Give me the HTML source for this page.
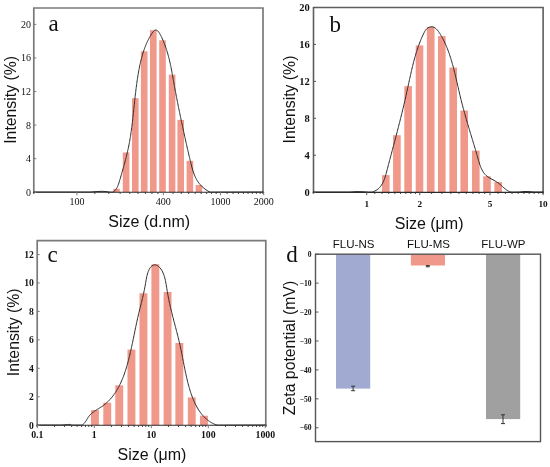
<!DOCTYPE html>
<html><head><meta charset="utf-8"><style>
html,body{margin:0;padding:0;background:#fff;}
svg{display:block;}
</style></head><body>
<svg width="550" height="467" viewBox="0 0 550 467">
<rect width="550" height="467" fill="#fff"/>
<rect x="113.20" y="188.80" width="6.6" height="3.40" fill="#F0988A"/>
<rect x="122.80" y="152.50" width="6.6" height="39.70" fill="#F0988A"/>
<rect x="132.00" y="98.20" width="6.6" height="94.00" fill="#F0988A"/>
<rect x="140.90" y="51.30" width="6.6" height="140.90" fill="#F0988A"/>
<rect x="150.00" y="30.20" width="6.6" height="162.00" fill="#F0988A"/>
<rect x="159.20" y="40.30" width="6.6" height="151.90" fill="#F0988A"/>
<rect x="168.80" y="74.60" width="6.6" height="117.60" fill="#F0988A"/>
<rect x="177.40" y="120.00" width="6.6" height="72.20" fill="#F0988A"/>
<rect x="186.60" y="160.80" width="6.6" height="31.40" fill="#F0988A"/>
<rect x="195.60" y="185.00" width="6.6" height="7.20" fill="#F0988A"/>
<path d="M33.8,193.05 V8 H263 V193.05" fill="none" stroke="#7a7a7a" stroke-width="1.7" stroke-linejoin="miter" stroke-linecap="square"/>
<line x1="32.95" y1="192.30" x2="263.85" y2="192.30" stroke="#2a2a2a" stroke-width="1.1"/>
<path d="M33.80,192.00 L90.00,192.00 L96.00,191.60 L102.00,191.30 L107.00,191.70 L109.75,192.10 L110.77,192.10 L111.70,192.10 L112.57,192.09 L113.38,191.78 L114.12,191.33 L114.81,190.76 L115.45,190.08 L116.04,189.30 L116.59,188.42 L117.10,187.47 L117.58,186.45 L118.02,185.37 L118.44,184.24 L118.84,183.08 L119.23,181.89 L119.59,180.68 L119.96,179.47 L120.31,178.26 L120.67,177.06 L121.02,175.87 L121.36,174.68 L121.71,173.51 L122.05,172.33 L122.38,171.17 L122.72,170.01 L123.05,168.85 L123.37,167.70 L123.69,166.55 L124.01,165.40 L124.33,164.26 L124.64,163.12 L124.94,161.98 L125.25,160.85 L125.54,159.71 L125.84,158.57 L126.12,157.44 L126.41,156.30 L126.69,155.16 L126.96,154.02 L127.23,152.88 L127.50,151.73 L127.76,150.58 L128.01,149.43 L128.26,148.28 L128.51,147.12 L128.75,145.95 L128.98,144.78 L129.21,143.60 L129.43,142.42 L129.65,141.23 L129.86,140.03 L130.07,138.82 L130.27,137.61 L130.47,136.39 L130.66,135.16 L130.84,133.93 L131.02,132.69 L131.20,131.45 L131.37,130.19 L131.54,128.94 L131.71,127.67 L131.87,126.41 L132.03,125.14 L132.18,123.86 L132.34,122.58 L132.49,121.29 L132.64,120.00 L132.78,118.71 L132.93,117.42 L133.07,116.12 L133.21,114.82 L133.35,113.52 L133.49,112.21 L133.63,110.90 L133.77,109.59 L133.91,108.28 L134.04,106.97 L134.18,105.66 L134.32,104.34 L134.46,103.03 L134.60,101.72 L134.74,100.40 L134.88,99.09 L135.02,97.78 L135.17,96.46 L135.31,95.15 L135.46,93.84 L135.61,92.53 L135.77,91.23 L135.92,89.92 L136.08,88.62 L136.24,87.32 L136.41,86.03 L136.58,84.73 L136.75,83.44 L136.93,82.16 L137.11,80.88 L137.30,79.60 L137.49,78.32 L137.69,77.06 L137.89,75.79 L138.10,74.53 L138.31,73.28 L138.53,72.03 L138.75,70.79 L138.99,69.55 L139.22,68.32 L139.47,67.10 L139.72,65.89 L139.98,64.68 L140.24,63.48 L140.52,62.28 L140.80,61.10 L141.09,59.92 L141.39,58.75 L141.69,57.60 L142.01,56.44 L142.33,55.30 L142.67,54.17 L143.01,53.05 L143.36,51.94 L143.72,50.84 L144.10,49.74 L144.48,48.66 L144.87,47.59 L145.28,46.54 L145.69,45.49 L146.12,44.46 L146.56,43.43 L147.01,42.42 L147.47,41.42 L147.94,40.44 L148.43,39.47 L148.92,38.51 L149.43,37.56 L149.96,36.63 L150.50,35.72 L151.05,34.81 L151.61,33.92 L152.19,33.05 L152.78,32.22 L153.38,31.47 L153.99,30.83 L154.61,30.35 L155.23,30.05 L155.85,29.97 L156.48,30.10 L157.10,30.43 L157.73,30.94 L158.35,31.61 L158.96,32.41 L159.56,33.33 L160.16,34.34 L160.74,35.43 L161.31,36.57 L161.87,37.75 L162.40,38.94 L162.92,40.13 L163.42,41.31 L163.90,42.49 L164.37,43.67 L164.81,44.83 L165.24,46.00 L165.66,47.16 L166.06,48.32 L166.44,49.48 L166.82,50.63 L167.17,51.78 L167.52,52.92 L167.85,54.07 L168.17,55.21 L168.48,56.36 L168.78,57.50 L169.07,58.64 L169.35,59.78 L169.62,60.92 L169.89,62.06 L170.14,63.20 L170.39,64.34 L170.63,65.48 L170.87,66.62 L171.10,67.77 L171.33,68.91 L171.55,70.06 L171.76,71.21 L171.98,72.36 L172.19,73.52 L172.40,74.68 L172.61,75.84 L172.82,77.01 L173.03,78.18 L173.24,79.35 L173.45,80.53 L173.66,81.72 L173.87,82.91 L174.09,84.10 L174.31,85.31 L174.53,86.51 L174.75,87.72 L174.98,88.94 L175.20,90.16 L175.43,91.38 L175.66,92.61 L175.90,93.84 L176.13,95.07 L176.37,96.31 L176.61,97.55 L176.85,98.79 L177.10,100.04 L177.34,101.28 L177.59,102.53 L177.84,103.79 L178.09,105.04 L178.34,106.29 L178.59,107.55 L178.84,108.81 L179.10,110.07 L179.36,111.32 L179.61,112.58 L179.87,113.84 L180.13,115.10 L180.39,116.36 L180.66,117.62 L180.92,118.87 L181.18,120.13 L181.45,121.38 L181.71,122.64 L181.98,123.89 L182.25,125.14 L182.51,126.39 L182.78,127.63 L183.05,128.87 L183.32,130.11 L183.59,131.35 L183.86,132.58 L184.13,133.81 L184.40,135.04 L184.67,136.26 L184.94,137.48 L185.21,138.70 L185.48,139.91 L185.75,141.11 L186.02,142.31 L186.29,143.50 L186.56,144.69 L186.83,145.88 L187.10,147.05 L187.37,148.23 L187.63,149.39 L187.90,150.55 L188.17,151.70 L188.43,152.85 L188.70,153.98 L188.96,155.11 L189.23,156.24 L189.49,157.35 L189.75,158.46 L190.02,159.56 L190.28,160.65 L190.54,161.73 L190.79,162.80 L191.05,163.86 L191.31,164.92 L191.58,165.96 L191.85,166.99 L192.13,168.02 L192.41,169.03 L192.71,170.03 L193.02,171.03 L193.34,172.01 L193.67,172.98 L194.02,173.94 L194.39,174.88 L194.78,175.82 L195.19,176.74 L195.62,177.65 L196.08,178.55 L196.56,179.44 L197.07,180.31 L197.61,181.17 L198.17,182.01 L198.77,182.85 L199.41,183.66 L200.07,184.47 L200.78,185.26 L201.52,186.03 L202.30,186.80 L203.12,187.54 L203.99,188.27 L204.90,188.99 L205.85,189.69 L206.86,190.37 L207.91,191.04 L209.01,191.69 L210.16,192.10 L211.37,192.10 L212.63,192.10 L213.95,192.10 L215.33,192.10 L263.00,192.00" fill="none" stroke="#2a2a2a" stroke-width="1.0" stroke-linejoin="round"/>
<line x1="33.8" y1="192.20" x2="36.3" y2="192.20" stroke="#7a7a7a" stroke-width="1"/>
<text x="31" y="195.70" font-family='"Liberation Serif", "Times New Roman", serif' font-size="10" font-weight="normal" text-anchor="end" fill="#111">0</text>
<line x1="33.8" y1="158.64" x2="36.3" y2="158.64" stroke="#7a7a7a" stroke-width="1"/>
<text x="31" y="162.14" font-family='"Liberation Serif", "Times New Roman", serif' font-size="10" font-weight="normal" text-anchor="end" fill="#111">4</text>
<line x1="33.8" y1="125.08" x2="36.3" y2="125.08" stroke="#7a7a7a" stroke-width="1"/>
<text x="31" y="128.58" font-family='"Liberation Serif", "Times New Roman", serif' font-size="10" font-weight="normal" text-anchor="end" fill="#111">8</text>
<line x1="33.8" y1="91.52" x2="36.3" y2="91.52" stroke="#7a7a7a" stroke-width="1"/>
<text x="31" y="95.02" font-family='"Liberation Serif", "Times New Roman", serif' font-size="10" font-weight="normal" text-anchor="end" fill="#111">12</text>
<line x1="33.8" y1="57.96" x2="36.3" y2="57.96" stroke="#7a7a7a" stroke-width="1"/>
<text x="31" y="61.46" font-family='"Liberation Serif", "Times New Roman", serif' font-size="10" font-weight="normal" text-anchor="end" fill="#111">16</text>
<line x1="33.8" y1="24.40" x2="36.3" y2="24.40" stroke="#7a7a7a" stroke-width="1"/>
<text x="31" y="27.90" font-family='"Liberation Serif", "Times New Roman", serif' font-size="10" font-weight="normal" text-anchor="end" fill="#111">20</text>
<line x1="76.90" y1="192.2" x2="76.90" y2="195.2" stroke="#7a7a7a" stroke-width="1"/>
<text x="76.90" y="205" font-family='"Liberation Serif", "Times New Roman", serif' font-size="10" font-weight="normal" text-anchor="middle" fill="#111">100</text>
<line x1="163.36" y1="192.2" x2="163.36" y2="195.2" stroke="#7a7a7a" stroke-width="1"/>
<text x="163.36" y="205" font-family='"Liberation Serif", "Times New Roman", serif' font-size="10" font-weight="normal" text-anchor="middle" fill="#111">400</text>
<line x1="220.50" y1="192.2" x2="220.50" y2="195.2" stroke="#7a7a7a" stroke-width="1"/>
<text x="220.50" y="205" font-family='"Liberation Serif", "Times New Roman", serif' font-size="10" font-weight="normal" text-anchor="middle" fill="#111">1000</text>
<line x1="263.73" y1="192.2" x2="263.73" y2="195.2" stroke="#7a7a7a" stroke-width="1"/>
<text x="263.73" y="205" font-family='"Liberation Serif", "Times New Roman", serif' font-size="10" font-weight="normal" text-anchor="middle" fill="#111">2000</text>
<line x1="94.84" y1="192.2" x2="94.84" y2="194.0" stroke="#333" stroke-width="0.9"/>
<line x1="108.76" y1="192.2" x2="108.76" y2="194.0" stroke="#333" stroke-width="0.9"/>
<line x1="120.13" y1="192.2" x2="120.13" y2="194.0" stroke="#333" stroke-width="0.9"/>
<line x1="129.74" y1="192.2" x2="129.74" y2="194.0" stroke="#333" stroke-width="0.9"/>
<line x1="138.07" y1="192.2" x2="138.07" y2="194.0" stroke="#333" stroke-width="0.9"/>
<line x1="145.41" y1="192.2" x2="145.41" y2="194.0" stroke="#333" stroke-width="0.9"/>
<line x1="151.99" y1="192.2" x2="151.99" y2="194.0" stroke="#333" stroke-width="0.9"/>
<line x1="157.93" y1="192.2" x2="157.93" y2="194.0" stroke="#333" stroke-width="0.9"/>
<line x1="172.97" y1="192.2" x2="172.97" y2="194.0" stroke="#333" stroke-width="0.9"/>
<line x1="181.30" y1="192.2" x2="181.30" y2="194.0" stroke="#333" stroke-width="0.9"/>
<line x1="188.64" y1="192.2" x2="188.64" y2="194.0" stroke="#333" stroke-width="0.9"/>
<line x1="195.21" y1="192.2" x2="195.21" y2="194.0" stroke="#333" stroke-width="0.9"/>
<line x1="201.16" y1="192.2" x2="201.16" y2="194.0" stroke="#333" stroke-width="0.9"/>
<line x1="206.58" y1="192.2" x2="206.58" y2="194.0" stroke="#333" stroke-width="0.9"/>
<line x1="211.58" y1="192.2" x2="211.58" y2="194.0" stroke="#333" stroke-width="0.9"/>
<line x1="216.20" y1="192.2" x2="216.20" y2="194.0" stroke="#333" stroke-width="0.9"/>
<line x1="227.07" y1="192.2" x2="227.07" y2="194.0" stroke="#333" stroke-width="0.9"/>
<line x1="233.01" y1="192.2" x2="233.01" y2="194.0" stroke="#333" stroke-width="0.9"/>
<line x1="238.44" y1="192.2" x2="238.44" y2="194.0" stroke="#333" stroke-width="0.9"/>
<line x1="243.43" y1="192.2" x2="243.43" y2="194.0" stroke="#333" stroke-width="0.9"/>
<line x1="248.05" y1="192.2" x2="248.05" y2="194.0" stroke="#333" stroke-width="0.9"/>
<line x1="252.36" y1="192.2" x2="252.36" y2="194.0" stroke="#333" stroke-width="0.9"/>
<line x1="256.38" y1="192.2" x2="256.38" y2="194.0" stroke="#333" stroke-width="0.9"/>
<line x1="260.16" y1="192.2" x2="260.16" y2="194.0" stroke="#333" stroke-width="0.9"/>
<text x="48.5" y="31.3" font-family='"Liberation Serif", "Times New Roman", serif' font-size="23" fill="#111">a</text>
<text transform="translate(15.8,99.9) rotate(-90)" x="0" y="0" font-family='"Liberation Sans", Arial, sans-serif' font-size="15.8" text-anchor="middle" fill="#111">Intensity (%)</text>
<text x="149.2" y="227.2" font-family='"Liberation Sans", Arial, sans-serif' font-size="16" text-anchor="middle" fill="#111">Size (d.nm)</text>
<rect x="382.00" y="175.10" width="7.6" height="17.10" fill="#F0988A"/>
<rect x="393.10" y="135.20" width="7.6" height="57.00" fill="#F0988A"/>
<rect x="404.30" y="86.20" width="7.6" height="106.00" fill="#F0988A"/>
<rect x="415.70" y="45.40" width="7.6" height="146.80" fill="#F0988A"/>
<rect x="426.90" y="27.00" width="7.6" height="165.20" fill="#F0988A"/>
<rect x="438.00" y="36.10" width="7.6" height="156.10" fill="#F0988A"/>
<rect x="449.40" y="67.60" width="7.6" height="124.60" fill="#F0988A"/>
<rect x="460.40" y="110.60" width="7.6" height="81.60" fill="#F0988A"/>
<rect x="472.00" y="150.60" width="7.6" height="41.60" fill="#F0988A"/>
<rect x="483.20" y="176.30" width="7.6" height="15.90" fill="#F0988A"/>
<rect x="494.40" y="182.10" width="7.6" height="10.10" fill="#F0988A"/>
<path d="M313.5,193.00 V7.5 H543.1 V193.00" fill="none" stroke="#5e5e5e" stroke-width="1.6" stroke-linejoin="miter" stroke-linecap="square"/>
<line x1="312.70" y1="192.40" x2="543.90" y2="192.40" stroke="#2a2a2a" stroke-width="1.1"/>
<path d="M313.50,192.00 L350.00,192.00 L356.00,191.60 L362.00,191.70 L367.00,192.00 L368.45,192.10 L369.91,192.10 L371.29,192.10 L372.58,191.86 L373.79,191.46 L374.92,190.99 L375.98,190.44 L376.97,189.82 L377.89,189.14 L378.76,188.40 L379.56,187.59 L380.30,186.74 L381.00,185.83 L381.64,184.87 L382.25,183.87 L382.80,182.82 L383.32,181.74 L383.81,180.62 L384.27,179.47 L384.69,178.30 L385.09,177.10 L385.48,175.88 L385.84,174.64 L386.19,173.39 L386.53,172.13 L386.87,170.86 L387.20,169.59 L387.53,168.32 L387.86,167.04 L388.20,165.77 L388.53,164.50 L388.86,163.23 L389.20,161.96 L389.53,160.69 L389.87,159.42 L390.20,158.15 L390.54,156.88 L390.88,155.62 L391.21,154.35 L391.55,153.08 L391.89,151.81 L392.22,150.54 L392.56,149.27 L392.90,148.00 L393.23,146.73 L393.57,145.46 L393.91,144.19 L394.24,142.92 L394.58,141.65 L394.92,140.38 L395.25,139.11 L395.59,137.84 L395.92,136.57 L396.25,135.29 L396.59,134.02 L396.92,132.75 L397.25,131.47 L397.58,130.20 L397.91,128.92 L398.24,127.64 L398.57,126.37 L398.90,125.09 L399.23,123.81 L399.55,122.53 L399.88,121.25 L400.20,119.97 L400.52,118.69 L400.84,117.40 L401.16,116.12 L401.48,114.83 L401.80,113.55 L402.11,112.26 L402.43,110.97 L402.74,109.68 L403.05,108.39 L403.36,107.09 L403.67,105.80 L403.98,104.50 L404.28,103.20 L404.58,101.90 L404.88,100.60 L405.18,99.30 L405.48,98.00 L405.77,96.69 L406.06,95.39 L406.36,94.08 L406.64,92.77 L406.93,91.46 L407.22,90.14 L407.50,88.83 L407.79,87.52 L408.07,86.20 L408.35,84.89 L408.64,83.58 L408.92,82.26 L409.21,80.95 L409.49,79.64 L409.78,78.33 L410.07,77.02 L410.36,75.71 L410.66,74.40 L410.95,73.10 L411.25,71.80 L411.55,70.50 L411.86,69.20 L412.17,67.91 L412.48,66.62 L412.80,65.33 L413.12,64.05 L413.45,62.77 L413.78,61.49 L414.12,60.22 L414.46,58.96 L414.81,57.70 L415.16,56.44 L415.53,55.19 L415.89,53.94 L416.27,52.70 L416.65,51.47 L417.05,50.24 L417.45,49.02 L417.85,47.81 L418.27,46.60 L418.69,45.40 L419.13,44.21 L419.57,43.02 L420.03,41.85 L420.49,40.68 L420.97,39.52 L421.45,38.37 L421.95,37.22 L422.45,36.09 L422.97,34.97 L423.50,33.85 L424.05,32.75 L424.62,31.67 L425.24,30.63 L425.93,29.67 L426.73,28.81 L427.66,28.07 L428.72,27.47 L429.85,27.05 L430.96,26.83 L432.00,26.80 L432.98,26.95 L433.90,27.27 L434.78,27.74 L435.60,28.33 L436.39,29.04 L437.14,29.83 L437.85,30.71 L438.54,31.64 L439.21,32.61 L439.85,33.60 L440.49,34.61 L441.10,35.63 L441.70,36.67 L442.29,37.71 L442.86,38.77 L443.42,39.84 L443.97,40.93 L444.50,42.02 L445.02,43.13 L445.52,44.24 L446.02,45.37 L446.50,46.51 L446.97,47.66 L447.43,48.81 L447.88,49.98 L448.32,51.15 L448.75,52.34 L449.17,53.53 L449.58,54.73 L449.99,55.94 L450.38,57.15 L450.77,58.38 L451.14,59.61 L451.51,60.84 L451.88,62.09 L452.23,63.33 L452.58,64.59 L452.93,65.85 L453.27,67.11 L453.60,68.38 L453.93,69.65 L454.25,70.93 L454.58,72.21 L454.89,73.50 L455.20,74.79 L455.51,76.08 L455.82,77.37 L456.13,78.67 L456.43,79.96 L456.73,81.26 L457.03,82.57 L457.33,83.87 L457.63,85.17 L457.93,86.47 L458.22,87.78 L458.52,89.08 L458.82,90.38 L459.12,91.68 L459.43,92.98 L459.73,94.28 L460.04,95.58 L460.35,96.88 L460.66,98.17 L460.98,99.46 L461.30,100.75 L461.62,102.03 L461.95,103.31 L462.28,104.59 L462.61,105.87 L462.95,107.14 L463.29,108.41 L463.63,109.68 L463.98,110.95 L464.33,112.21 L464.68,113.47 L465.04,114.73 L465.39,115.99 L465.75,117.24 L466.11,118.50 L466.47,119.75 L466.84,121.00 L467.20,122.24 L467.57,123.49 L467.94,124.73 L468.31,125.98 L468.68,127.22 L469.05,128.46 L469.42,129.70 L469.79,130.94 L470.17,132.17 L470.54,133.41 L470.92,134.64 L471.29,135.88 L471.66,137.11 L472.04,138.35 L472.41,139.58 L472.78,140.81 L473.15,142.04 L473.53,143.27 L473.90,144.50 L474.27,145.73 L474.63,146.97 L475.00,148.20 L475.37,149.43 L475.73,150.66 L476.09,151.89 L476.45,153.12 L476.81,154.35 L477.16,155.59 L477.52,156.82 L477.87,158.05 L478.22,159.29 L478.57,160.52 L478.93,161.74 L479.30,162.95 L479.68,164.15 L480.09,165.33 L480.51,166.48 L480.97,167.62 L481.45,168.72 L481.97,169.80 L482.53,170.84 L483.13,171.84 L483.77,172.80 L484.47,173.71 L485.22,174.57 L486.04,175.39 L486.91,176.14 L487.84,176.85 L488.83,177.50 L489.85,178.13 L490.90,178.72 L491.97,179.30 L493.04,179.87 L494.11,180.44 L495.16,181.02 L496.18,181.63 L497.16,182.26 L498.11,182.92 L499.01,183.61 L499.89,184.32 L500.74,185.04 L501.58,185.77 L502.41,186.50 L503.24,187.23 L504.08,187.95 L504.92,188.65 L505.78,189.33 L506.67,189.98 L507.59,190.60 L508.58,191.17 L509.68,191.69 L510.93,192.10 L512.38,192.10 L514.06,192.10 L516.01,192.10 L520.00,192.00 L524.00,191.50 L529.00,191.60 L534.00,192.00 L543.10,192.00" fill="none" stroke="#2a2a2a" stroke-width="1.0" stroke-linejoin="round"/>
<line x1="313.5" y1="192.20" x2="316.0" y2="192.20" stroke="#555" stroke-width="1"/>
<text x="309.7" y="195.88" font-family='"Liberation Serif", "Times New Roman", serif' font-size="10.5" font-weight="bold" text-anchor="end" fill="#111">0</text>
<line x1="313.5" y1="155.26" x2="316.0" y2="155.26" stroke="#555" stroke-width="1"/>
<text x="309.7" y="158.94" font-family='"Liberation Serif", "Times New Roman", serif' font-size="10.5" font-weight="bold" text-anchor="end" fill="#111">4</text>
<line x1="313.5" y1="118.32" x2="316.0" y2="118.32" stroke="#555" stroke-width="1"/>
<text x="309.7" y="121.99" font-family='"Liberation Serif", "Times New Roman", serif' font-size="10.5" font-weight="bold" text-anchor="end" fill="#111">8</text>
<line x1="313.5" y1="81.38" x2="316.0" y2="81.38" stroke="#555" stroke-width="1"/>
<text x="309.7" y="85.05" font-family='"Liberation Serif", "Times New Roman", serif' font-size="10.5" font-weight="bold" text-anchor="end" fill="#111">12</text>
<line x1="313.5" y1="44.44" x2="316.0" y2="44.44" stroke="#555" stroke-width="1"/>
<text x="309.7" y="48.11" font-family='"Liberation Serif", "Times New Roman", serif' font-size="10.5" font-weight="bold" text-anchor="end" fill="#111">16</text>
<line x1="313.5" y1="7.50" x2="316.0" y2="7.50" stroke="#555" stroke-width="1"/>
<text x="309.7" y="11.18" font-family='"Liberation Serif", "Times New Roman", serif' font-size="10.5" font-weight="bold" text-anchor="end" fill="#111">20</text>
<line x1="366.70" y1="192.2" x2="366.70" y2="195.2" stroke="#555" stroke-width="1"/>
<text x="366.70" y="206.8" font-family='"Liberation Serif", "Times New Roman", serif' font-size="9.2" font-weight="bold" text-anchor="middle" fill="#111">1</text>
<line x1="419.80" y1="192.2" x2="419.80" y2="195.2" stroke="#555" stroke-width="1"/>
<text x="419.80" y="206.8" font-family='"Liberation Serif", "Times New Roman", serif' font-size="9.2" font-weight="bold" text-anchor="middle" fill="#111">2</text>
<line x1="490.00" y1="192.2" x2="490.00" y2="195.2" stroke="#555" stroke-width="1"/>
<text x="490.00" y="206.8" font-family='"Liberation Serif", "Times New Roman", serif' font-size="9.2" font-weight="bold" text-anchor="middle" fill="#111">5</text>
<line x1="543.10" y1="192.2" x2="543.10" y2="195.2" stroke="#555" stroke-width="1"/>
<text x="543.10" y="206.8" font-family='"Liberation Serif", "Times New Roman", serif' font-size="9.2" font-weight="bold" text-anchor="middle" fill="#111">10</text>
<line x1="374.77" y1="192.2" x2="374.77" y2="194.0" stroke="#333" stroke-width="0.9"/>
<line x1="382.07" y1="192.2" x2="382.07" y2="194.0" stroke="#333" stroke-width="0.9"/>
<line x1="388.74" y1="192.2" x2="388.74" y2="194.0" stroke="#333" stroke-width="0.9"/>
<line x1="394.87" y1="192.2" x2="394.87" y2="194.0" stroke="#333" stroke-width="0.9"/>
<line x1="400.55" y1="192.2" x2="400.55" y2="194.0" stroke="#333" stroke-width="0.9"/>
<line x1="405.83" y1="192.2" x2="405.83" y2="194.0" stroke="#333" stroke-width="0.9"/>
<line x1="410.78" y1="192.2" x2="410.78" y2="194.0" stroke="#333" stroke-width="0.9"/>
<line x1="415.42" y1="192.2" x2="415.42" y2="194.0" stroke="#333" stroke-width="0.9"/>
<line x1="431.61" y1="192.2" x2="431.61" y2="194.0" stroke="#333" stroke-width="0.9"/>
<line x1="441.84" y1="192.2" x2="441.84" y2="194.0" stroke="#333" stroke-width="0.9"/>
<line x1="450.86" y1="192.2" x2="450.86" y2="194.0" stroke="#333" stroke-width="0.9"/>
<line x1="458.94" y1="192.2" x2="458.94" y2="194.0" stroke="#333" stroke-width="0.9"/>
<line x1="466.24" y1="192.2" x2="466.24" y2="194.0" stroke="#333" stroke-width="0.9"/>
<line x1="472.90" y1="192.2" x2="472.90" y2="194.0" stroke="#333" stroke-width="0.9"/>
<line x1="479.04" y1="192.2" x2="479.04" y2="194.0" stroke="#333" stroke-width="0.9"/>
<line x1="484.71" y1="192.2" x2="484.71" y2="194.0" stroke="#333" stroke-width="0.9"/>
<line x1="498.07" y1="192.2" x2="498.07" y2="194.0" stroke="#333" stroke-width="0.9"/>
<line x1="505.37" y1="192.2" x2="505.37" y2="194.0" stroke="#333" stroke-width="0.9"/>
<line x1="512.04" y1="192.2" x2="512.04" y2="194.0" stroke="#333" stroke-width="0.9"/>
<line x1="518.17" y1="192.2" x2="518.17" y2="194.0" stroke="#333" stroke-width="0.9"/>
<line x1="523.85" y1="192.2" x2="523.85" y2="194.0" stroke="#333" stroke-width="0.9"/>
<line x1="529.13" y1="192.2" x2="529.13" y2="194.0" stroke="#333" stroke-width="0.9"/>
<line x1="534.08" y1="192.2" x2="534.08" y2="194.0" stroke="#333" stroke-width="0.9"/>
<line x1="538.72" y1="192.2" x2="538.72" y2="194.0" stroke="#333" stroke-width="0.9"/>
<text x="329.4" y="31.6" font-family='"Liberation Serif", "Times New Roman", serif' font-size="23" fill="#111">b</text>
<text transform="translate(294.6,99.5) rotate(-90)" x="0" y="0" font-family='"Liberation Sans", Arial, sans-serif' font-size="15.8" text-anchor="middle" fill="#111">Intensity (%)</text>
<text x="429.1" y="229.0" font-family='"Liberation Sans", Arial, sans-serif' font-size="16" text-anchor="middle" fill="#111">Size (μm)</text>
<rect x="91.00" y="410.10" width="7.9" height="15.10" fill="#F0988A"/>
<rect x="103.30" y="402.70" width="7.9" height="22.50" fill="#F0988A"/>
<rect x="115.30" y="385.30" width="7.9" height="39.90" fill="#F0988A"/>
<rect x="127.50" y="349.60" width="7.9" height="75.60" fill="#F0988A"/>
<rect x="139.50" y="293.20" width="7.9" height="132.00" fill="#F0988A"/>
<rect x="151.40" y="264.30" width="7.9" height="160.90" fill="#F0988A"/>
<rect x="163.60" y="292.00" width="7.9" height="133.20" fill="#F0988A"/>
<rect x="175.40" y="343.00" width="7.9" height="82.20" fill="#F0988A"/>
<rect x="187.80" y="397.40" width="7.9" height="27.80" fill="#F0988A"/>
<rect x="200.00" y="415.70" width="7.9" height="9.50" fill="#F0988A"/>
<path d="M37.2,426.05 V240.7 H265.8 V426.05" fill="none" stroke="#7a7a7a" stroke-width="1.7" stroke-linejoin="miter" stroke-linecap="square"/>
<line x1="36.35" y1="425.20" x2="266.65" y2="425.20" stroke="#2a2a2a" stroke-width="1.1"/>
<path d="M37.20,425.00 L62.00,425.00 L67.00,424.60 L69.50,424.90 L69.32,424.28 L71.72,425.10 L73.86,425.10 L75.77,425.10 L77.46,425.10 L78.96,425.10 L80.29,425.10 L81.45,425.10 L82.48,424.88 L83.39,424.19 L84.20,423.40 L84.93,422.52 L85.60,421.58 L86.23,420.60 L86.83,419.59 L87.43,418.58 L88.04,417.59 L88.69,416.63 L89.39,415.73 L90.14,414.88 L90.94,414.08 L91.78,413.32 L92.65,412.59 L93.55,411.91 L94.48,411.24 L95.43,410.60 L96.39,409.98 L97.37,409.36 L98.35,408.75 L99.32,408.14 L100.30,407.53 L101.26,406.91 L102.21,406.27 L103.13,405.61 L104.04,404.92 L104.93,404.22 L105.79,403.50 L106.64,402.76 L107.47,402.00 L108.28,401.22 L109.07,400.42 L109.85,399.61 L110.61,398.77 L111.35,397.92 L112.07,397.05 L112.77,396.16 L113.46,395.25 L114.14,394.33 L114.80,393.39 L115.44,392.43 L116.07,391.46 L116.68,390.48 L117.28,389.47 L117.86,388.45 L118.43,387.42 L118.99,386.37 L119.53,385.31 L120.06,384.24 L120.58,383.15 L121.08,382.05 L121.58,380.93 L122.06,379.80 L122.53,378.67 L122.99,377.52 L123.44,376.36 L123.87,375.18 L124.30,374.00 L124.72,372.81 L125.13,371.61 L125.53,370.40 L125.92,369.18 L126.30,367.95 L126.67,366.72 L127.04,365.48 L127.40,364.23 L127.75,362.97 L128.09,361.71 L128.43,360.44 L128.76,359.16 L129.08,357.88 L129.40,356.60 L129.71,355.31 L130.02,354.02 L130.32,352.72 L130.62,351.42 L130.91,350.12 L131.20,348.81 L131.49,347.51 L131.77,346.20 L132.05,344.89 L132.33,343.58 L132.60,342.26 L132.88,340.95 L133.15,339.63 L133.42,338.32 L133.69,337.00 L133.95,335.69 L134.22,334.37 L134.49,333.06 L134.76,331.75 L135.02,330.44 L135.29,329.13 L135.56,327.82 L135.83,326.52 L136.10,325.22 L136.38,323.92 L136.65,322.62 L136.93,321.33 L137.22,320.04 L137.50,318.76 L137.79,317.48 L138.08,316.20 L138.38,314.93 L138.68,313.67 L138.98,312.41 L139.29,311.15 L139.60,309.89 L139.91,308.64 L140.23,307.39 L140.54,306.13 L140.86,304.87 L141.17,303.61 L141.49,302.35 L141.80,301.08 L142.11,299.81 L142.42,298.53 L142.73,297.24 L143.03,295.94 L143.33,294.64 L143.62,293.32 L143.91,291.99 L144.19,290.65 L144.47,289.29 L144.74,287.93 L145.00,286.54 L145.26,285.14 L145.50,283.72 L145.74,282.29 L145.99,280.86 L146.24,279.44 L146.50,278.03 L146.79,276.64 L147.10,275.28 L147.45,273.96 L147.83,272.69 L148.26,271.48 L148.74,270.32 L149.28,269.25 L149.87,268.25 L150.54,267.34 L151.28,266.53 L152.09,265.84 L152.96,265.30 L153.86,264.94 L154.80,264.79 L155.74,264.89 L156.68,265.21 L157.59,265.72 L158.48,266.38 L159.32,267.15 L160.10,267.99 L160.81,268.90 L161.47,269.86 L162.08,270.88 L162.63,271.94 L163.14,273.05 L163.60,274.21 L164.02,275.40 L164.41,276.63 L164.76,277.89 L165.08,279.19 L165.38,280.50 L165.66,281.84 L165.92,283.19 L166.16,284.56 L166.39,285.93 L166.62,287.32 L166.84,288.70 L167.06,290.09 L167.29,291.47 L167.52,292.84 L167.75,294.21 L168.00,295.56 L168.25,296.91 L168.51,298.25 L168.78,299.58 L169.05,300.91 L169.33,302.22 L169.62,303.54 L169.91,304.84 L170.20,306.14 L170.50,307.43 L170.81,308.72 L171.11,310.01 L171.43,311.29 L171.74,312.56 L172.06,313.84 L172.38,315.10 L172.70,316.37 L173.03,317.63 L173.36,318.90 L173.68,320.16 L174.01,321.41 L174.34,322.67 L174.68,323.93 L175.01,325.19 L175.34,326.44 L175.67,327.70 L176.00,328.96 L176.33,330.22 L176.66,331.48 L176.98,332.74 L177.31,334.00 L177.63,335.27 L177.95,336.54 L178.26,337.81 L178.57,339.09 L178.88,340.37 L179.19,341.66 L179.49,342.95 L179.78,344.24 L180.08,345.54 L180.36,346.85 L180.64,348.16 L180.92,349.48 L181.19,350.80 L181.47,352.12 L181.73,353.45 L182.00,354.78 L182.26,356.11 L182.53,357.44 L182.79,358.78 L183.05,360.11 L183.31,361.45 L183.57,362.79 L183.83,364.12 L184.10,365.46 L184.36,366.79 L184.63,368.12 L184.90,369.45 L185.17,370.78 L185.45,372.10 L185.73,373.42 L186.01,374.73 L186.30,376.05 L186.60,377.35 L186.89,378.65 L187.20,379.94 L187.51,381.23 L187.83,382.51 L188.16,383.78 L188.49,385.05 L188.83,386.31 L189.18,387.55 L189.54,388.79 L189.91,390.02 L190.29,391.24 L190.68,392.45 L191.08,393.65 L191.49,394.83 L191.91,396.01 L192.35,397.17 L192.79,398.32 L193.25,399.45 L193.73,400.57 L194.22,401.68 L194.72,402.77 L195.23,403.85 L195.77,404.91 L196.31,405.95 L196.88,406.98 L197.45,407.99 L198.05,408.99 L198.66,409.96 L199.30,410.92 L199.95,411.86 L200.61,412.78 L201.30,413.68 L202.01,414.56 L202.74,415.42 L203.49,416.25 L204.26,417.06 L205.06,417.85 L205.89,418.62 L206.74,419.36 L207.62,420.07 L208.53,420.75 L209.48,421.41 L210.45,422.04 L211.46,422.63 L212.51,423.20 L213.59,423.74 L214.71,424.24 L215.87,424.71 L217.07,425.10 L218.32,425.10 L219.64,425.10 L221.02,425.10 L222.49,425.10 L224.05,425.10 L265.80,425.00" fill="none" stroke="#2a2a2a" stroke-width="1.0" stroke-linejoin="round"/>
<line x1="37.2" y1="425.20" x2="39.7" y2="425.20" stroke="#7a7a7a" stroke-width="1"/>
<text x="33.8" y="428.56" font-family='"Liberation Serif", "Times New Roman", serif' font-size="9.6" font-weight="bold" text-anchor="end" fill="#111">0</text>
<line x1="37.2" y1="396.76" x2="39.7" y2="396.76" stroke="#7a7a7a" stroke-width="1"/>
<text x="33.8" y="400.12" font-family='"Liberation Serif", "Times New Roman", serif' font-size="9.6" font-weight="bold" text-anchor="end" fill="#111">2</text>
<line x1="37.2" y1="368.32" x2="39.7" y2="368.32" stroke="#7a7a7a" stroke-width="1"/>
<text x="33.8" y="371.68" font-family='"Liberation Serif", "Times New Roman", serif' font-size="9.6" font-weight="bold" text-anchor="end" fill="#111">4</text>
<line x1="37.2" y1="339.88" x2="39.7" y2="339.88" stroke="#7a7a7a" stroke-width="1"/>
<text x="33.8" y="343.24" font-family='"Liberation Serif", "Times New Roman", serif' font-size="9.6" font-weight="bold" text-anchor="end" fill="#111">6</text>
<line x1="37.2" y1="311.44" x2="39.7" y2="311.44" stroke="#7a7a7a" stroke-width="1"/>
<text x="33.8" y="314.80" font-family='"Liberation Serif", "Times New Roman", serif' font-size="9.6" font-weight="bold" text-anchor="end" fill="#111">8</text>
<line x1="37.2" y1="283.00" x2="39.7" y2="283.00" stroke="#7a7a7a" stroke-width="1"/>
<text x="33.8" y="286.36" font-family='"Liberation Serif", "Times New Roman", serif' font-size="9.6" font-weight="bold" text-anchor="end" fill="#111">10</text>
<line x1="37.2" y1="254.56" x2="39.7" y2="254.56" stroke="#7a7a7a" stroke-width="1"/>
<text x="33.8" y="257.92" font-family='"Liberation Serif", "Times New Roman", serif' font-size="9.6" font-weight="bold" text-anchor="end" fill="#111">12</text>
<line x1="37.30" y1="425.2" x2="37.30" y2="428.2" stroke="#7a7a7a" stroke-width="1"/>
<text x="37.30" y="438.3" font-family='"Liberation Serif", "Times New Roman", serif' font-size="9.8" font-weight="bold" text-anchor="middle" fill="#111">0.1</text>
<line x1="94.30" y1="425.2" x2="94.30" y2="428.2" stroke="#7a7a7a" stroke-width="1"/>
<text x="94.30" y="438.3" font-family='"Liberation Serif", "Times New Roman", serif' font-size="9.8" font-weight="bold" text-anchor="middle" fill="#111">1</text>
<line x1="151.30" y1="425.2" x2="151.30" y2="428.2" stroke="#7a7a7a" stroke-width="1"/>
<text x="151.30" y="438.3" font-family='"Liberation Serif", "Times New Roman", serif' font-size="9.8" font-weight="bold" text-anchor="middle" fill="#111">10</text>
<line x1="208.30" y1="425.2" x2="208.30" y2="428.2" stroke="#7a7a7a" stroke-width="1"/>
<text x="208.30" y="438.3" font-family='"Liberation Serif", "Times New Roman", serif' font-size="9.8" font-weight="bold" text-anchor="middle" fill="#111">100</text>
<line x1="265.30" y1="425.2" x2="265.30" y2="428.2" stroke="#7a7a7a" stroke-width="1"/>
<text x="265.30" y="438.3" font-family='"Liberation Serif", "Times New Roman", serif' font-size="9.8" font-weight="bold" text-anchor="middle" fill="#111">1000</text>
<line x1="54.46" y1="425.2" x2="54.46" y2="427.0" stroke="#333" stroke-width="0.9"/>
<line x1="64.50" y1="425.2" x2="64.50" y2="427.0" stroke="#333" stroke-width="0.9"/>
<line x1="71.62" y1="425.2" x2="71.62" y2="427.0" stroke="#333" stroke-width="0.9"/>
<line x1="77.14" y1="425.2" x2="77.14" y2="427.0" stroke="#333" stroke-width="0.9"/>
<line x1="81.65" y1="425.2" x2="81.65" y2="427.0" stroke="#333" stroke-width="0.9"/>
<line x1="85.47" y1="425.2" x2="85.47" y2="427.0" stroke="#333" stroke-width="0.9"/>
<line x1="88.78" y1="425.2" x2="88.78" y2="427.0" stroke="#333" stroke-width="0.9"/>
<line x1="91.69" y1="425.2" x2="91.69" y2="427.0" stroke="#333" stroke-width="0.9"/>
<line x1="111.46" y1="425.2" x2="111.46" y2="427.0" stroke="#333" stroke-width="0.9"/>
<line x1="121.50" y1="425.2" x2="121.50" y2="427.0" stroke="#333" stroke-width="0.9"/>
<line x1="128.62" y1="425.2" x2="128.62" y2="427.0" stroke="#333" stroke-width="0.9"/>
<line x1="134.14" y1="425.2" x2="134.14" y2="427.0" stroke="#333" stroke-width="0.9"/>
<line x1="138.65" y1="425.2" x2="138.65" y2="427.0" stroke="#333" stroke-width="0.9"/>
<line x1="142.47" y1="425.2" x2="142.47" y2="427.0" stroke="#333" stroke-width="0.9"/>
<line x1="145.78" y1="425.2" x2="145.78" y2="427.0" stroke="#333" stroke-width="0.9"/>
<line x1="148.69" y1="425.2" x2="148.69" y2="427.0" stroke="#333" stroke-width="0.9"/>
<line x1="168.46" y1="425.2" x2="168.46" y2="427.0" stroke="#333" stroke-width="0.9"/>
<line x1="178.50" y1="425.2" x2="178.50" y2="427.0" stroke="#333" stroke-width="0.9"/>
<line x1="185.62" y1="425.2" x2="185.62" y2="427.0" stroke="#333" stroke-width="0.9"/>
<line x1="191.14" y1="425.2" x2="191.14" y2="427.0" stroke="#333" stroke-width="0.9"/>
<line x1="195.65" y1="425.2" x2="195.65" y2="427.0" stroke="#333" stroke-width="0.9"/>
<line x1="199.47" y1="425.2" x2="199.47" y2="427.0" stroke="#333" stroke-width="0.9"/>
<line x1="202.78" y1="425.2" x2="202.78" y2="427.0" stroke="#333" stroke-width="0.9"/>
<line x1="205.69" y1="425.2" x2="205.69" y2="427.0" stroke="#333" stroke-width="0.9"/>
<line x1="225.46" y1="425.2" x2="225.46" y2="427.0" stroke="#333" stroke-width="0.9"/>
<line x1="235.50" y1="425.2" x2="235.50" y2="427.0" stroke="#333" stroke-width="0.9"/>
<line x1="242.62" y1="425.2" x2="242.62" y2="427.0" stroke="#333" stroke-width="0.9"/>
<line x1="248.14" y1="425.2" x2="248.14" y2="427.0" stroke="#333" stroke-width="0.9"/>
<line x1="252.65" y1="425.2" x2="252.65" y2="427.0" stroke="#333" stroke-width="0.9"/>
<line x1="256.47" y1="425.2" x2="256.47" y2="427.0" stroke="#333" stroke-width="0.9"/>
<line x1="259.78" y1="425.2" x2="259.78" y2="427.0" stroke="#333" stroke-width="0.9"/>
<line x1="262.69" y1="425.2" x2="262.69" y2="427.0" stroke="#333" stroke-width="0.9"/>
<text x="47.6" y="261.8" font-family='"Liberation Serif", "Times New Roman", serif' font-size="23" fill="#111">c</text>
<text transform="translate(18.6,332.3) rotate(-90)" x="0" y="0" font-family='"Liberation Sans", Arial, sans-serif' font-size="15.8" text-anchor="middle" fill="#111">Intensity (%)</text>
<text x="152.0" y="459.7" font-family='"Liberation Sans", Arial, sans-serif' font-size="16" text-anchor="middle" fill="#111">Size (μm)</text>
<rect x="336" y="254.2" width="34.2" height="134.40" fill="#A1AAD1"/>
<rect x="410.9" y="254.2" width="34.1" height="11.30" fill="#F0988A"/>
<rect x="486" y="254.2" width="34.2" height="164.90" fill="#A0A0A0"/>
<line x1="353.1" y1="386.2" x2="353.1" y2="390.7" stroke="#333" stroke-width="1"/>
<line x1="351.1" y1="386.2" x2="355.1" y2="386.2" stroke="#333" stroke-width="1"/>
<line x1="351.1" y1="390.7" x2="355.1" y2="390.7" stroke="#333" stroke-width="1"/>
<line x1="427.8" y1="265.6" x2="427.8" y2="266.8" stroke="#333" stroke-width="1"/>
<line x1="425.8" y1="265.6" x2="429.8" y2="265.6" stroke="#333" stroke-width="1"/>
<line x1="425.8" y1="266.8" x2="429.8" y2="266.8" stroke="#333" stroke-width="1"/>
<line x1="503" y1="414.8" x2="503" y2="423.6" stroke="#333" stroke-width="1"/>
<line x1="501.0" y1="414.8" x2="505.0" y2="414.8" stroke="#333" stroke-width="1"/>
<line x1="501.0" y1="423.6" x2="505.0" y2="423.6" stroke="#333" stroke-width="1"/>
<rect x="315.5" y="254.2" width="225.00" height="187.40" fill="none" stroke="#555" stroke-width="1.4"/>
<line x1="315.5" y1="254.20" x2="318.5" y2="254.20" stroke="#555" stroke-width="1"/>
<text x="311.6" y="256.86" font-family='"Liberation Serif", "Times New Roman", serif' font-size="7.6" font-weight="bold" text-anchor="end" fill="#111">0</text>
<line x1="315.5" y1="283.13" x2="318.5" y2="283.13" stroke="#555" stroke-width="1"/>
<text x="311.6" y="285.79" font-family='"Liberation Serif", "Times New Roman", serif' font-size="7.6" font-weight="bold" text-anchor="end" fill="#111">&#8722;10</text>
<line x1="315.5" y1="312.06" x2="318.5" y2="312.06" stroke="#555" stroke-width="1"/>
<text x="311.6" y="314.72" font-family='"Liberation Serif", "Times New Roman", serif' font-size="7.6" font-weight="bold" text-anchor="end" fill="#111">&#8722;20</text>
<line x1="315.5" y1="340.99" x2="318.5" y2="340.99" stroke="#555" stroke-width="1"/>
<text x="311.6" y="343.65" font-family='"Liberation Serif", "Times New Roman", serif' font-size="7.6" font-weight="bold" text-anchor="end" fill="#111">&#8722;30</text>
<line x1="315.5" y1="369.92" x2="318.5" y2="369.92" stroke="#555" stroke-width="1"/>
<text x="311.6" y="372.58" font-family='"Liberation Serif", "Times New Roman", serif' font-size="7.6" font-weight="bold" text-anchor="end" fill="#111">&#8722;40</text>
<line x1="315.5" y1="398.85" x2="318.5" y2="398.85" stroke="#555" stroke-width="1"/>
<text x="311.6" y="401.51" font-family='"Liberation Serif", "Times New Roman", serif' font-size="7.6" font-weight="bold" text-anchor="end" fill="#111">&#8722;50</text>
<line x1="315.5" y1="427.78" x2="318.5" y2="427.78" stroke="#555" stroke-width="1"/>
<text x="311.6" y="430.44" font-family='"Liberation Serif", "Times New Roman", serif' font-size="7.6" font-weight="bold" text-anchor="end" fill="#111">&#8722;60</text>
<text x="353.6" y="247.9" font-family='"Liberation Sans", Arial, sans-serif' font-size="11.5" text-anchor="middle" fill="#111">FLU-NS</text>
<text x="428.5" y="247.9" font-family='"Liberation Sans", Arial, sans-serif' font-size="11.5" text-anchor="middle" fill="#111">FLU-MS</text>
<text x="503.4" y="247.9" font-family='"Liberation Sans", Arial, sans-serif' font-size="11.5" text-anchor="middle" fill="#111">FLU-WP</text>
<text x="286.3" y="261.7" font-family='"Liberation Serif", "Times New Roman", serif' font-size="23" fill="#111">d</text>
<text transform="translate(294.7,348) rotate(-90)" x="0" y="0" font-family='"Liberation Sans", Arial, sans-serif' font-size="15.8" text-anchor="middle" fill="#111">Zeta potential (mV)</text>
</svg>
</body></html>
